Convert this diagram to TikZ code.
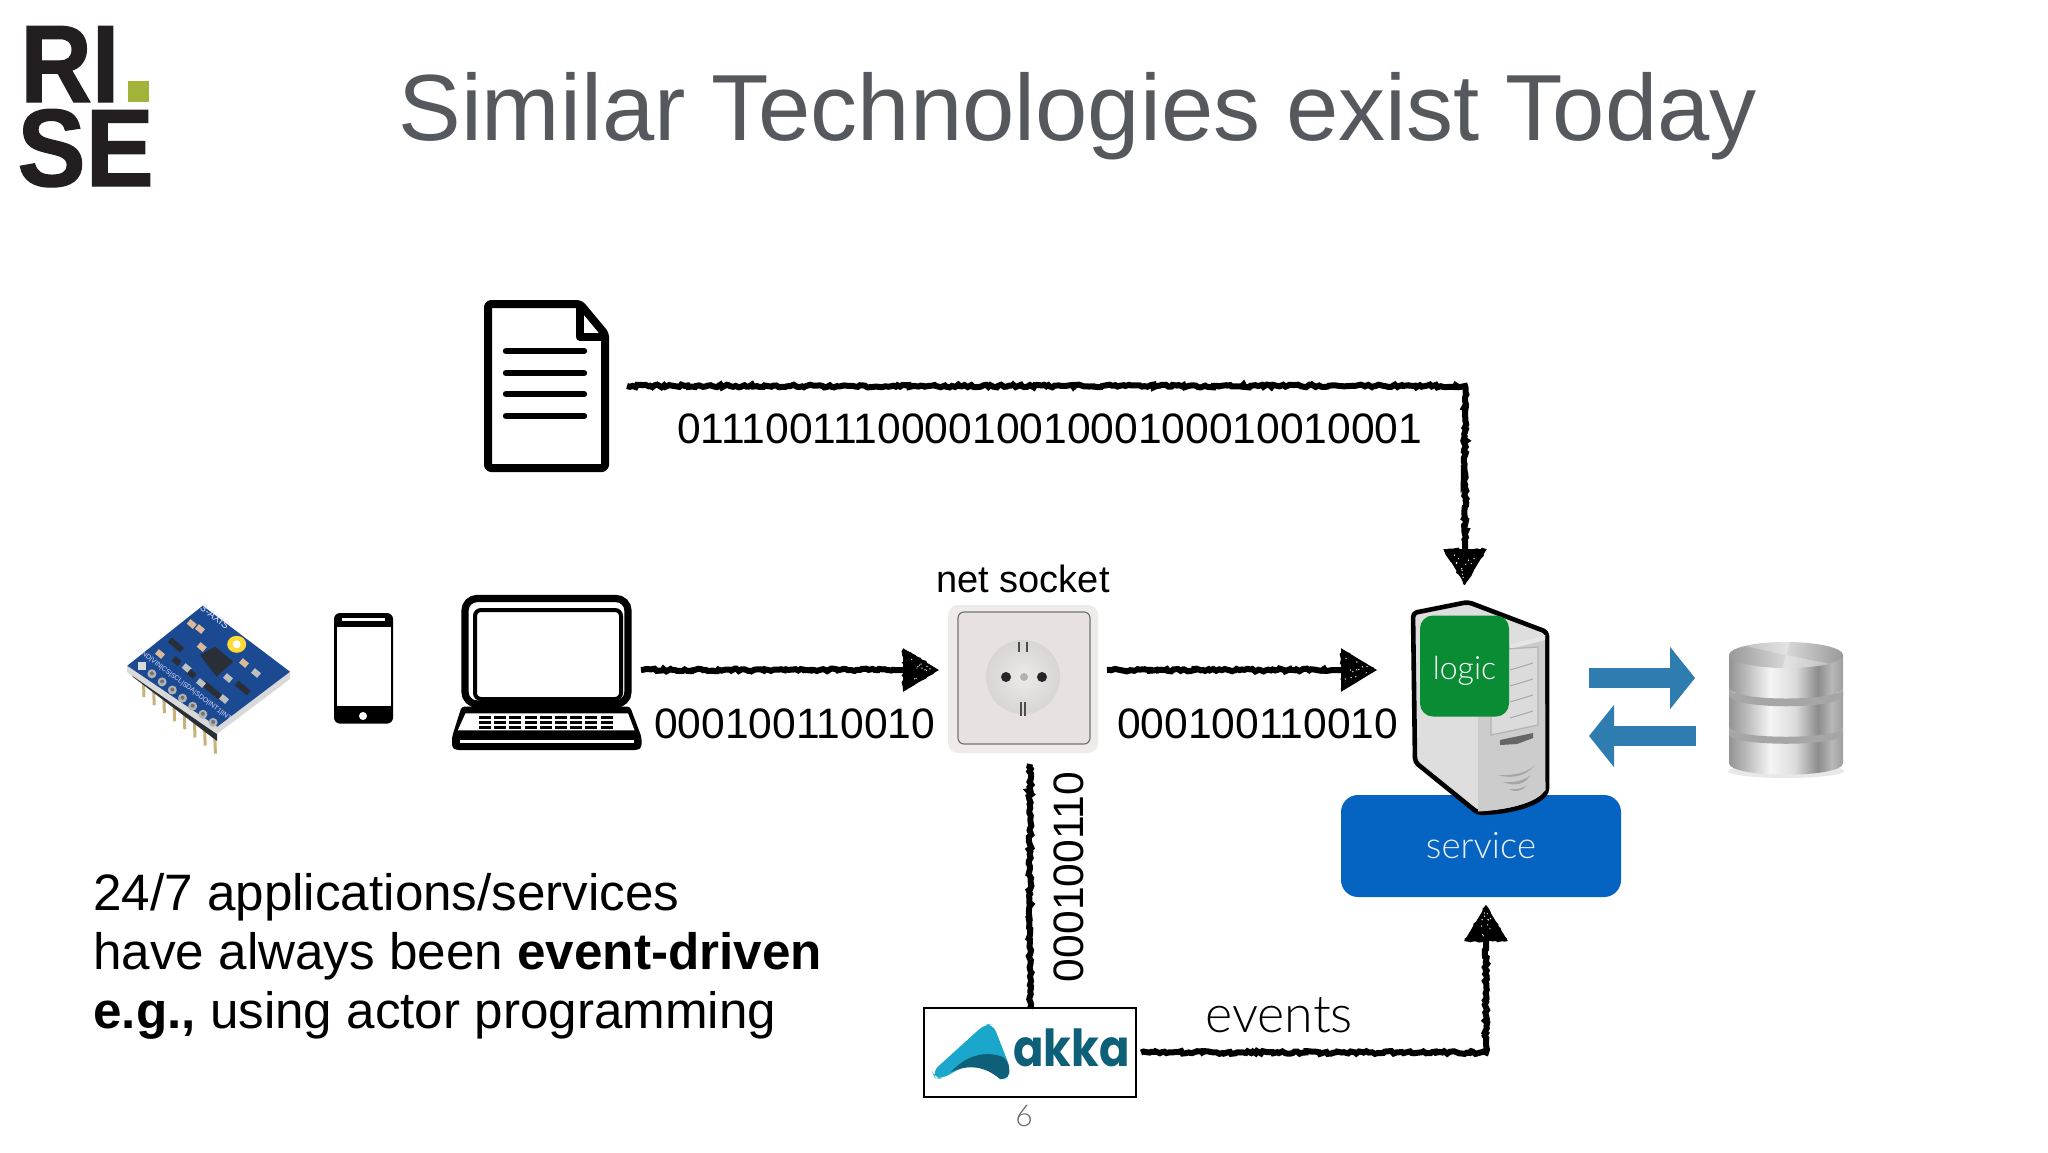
\documentclass[tikz,border=0pt]{standalone}
\usepackage{fontspec}
\setmainfont{Liberation Sans}
\newfontfamily\lightf{Lato Light}[Numbers=Lining]
\newfontfamily\akkaf{Poppins}
\newfontfamily\logof{Liberation Sans}[UprightFeatures={FakeBold=1.2},BoldFeatures={FakeBold=1.2}]
\newfontfamily\tinyf{Liberation Sans}[Kerning=Off]
\usetikzlibrary{arrows.meta,decorations.pathmorphing,calc}
\definecolor{titlegray}{HTML}{55595D}
\definecolor{logoink}{HTML}{231F20}
\definecolor{logogreen}{HTML}{A3B239}
\definecolor{srvblue}{HTML}{0563C1}
\definecolor{logicgreen}{HTML}{098C33}
\definecolor{flow}{HTML}{2F7CB1}
\definecolor{akkalight}{HTML}{1BA6CB}
\definecolor{akkadark}{HTML}{0E5F78}
\definecolor{pcb}{HTML}{1B4A92}
\definecolor{chip}{HTML}{2A2E36}
\definecolor{pingold}{HTML}{C9B27A}
\definecolor{sockframe}{HTML}{EFEBEA}
\definecolor{sockface}{HTML}{E7E1E1}
\definecolor{sockwell}{HTML}{D8D5D2}
\pgfdeclarehorizontalshading{metal}{100bp}{rgb(0bp)=(.58,.58,.58);rgb(25bp)=(.58,.58,.58);rgb(33bp)=(.74,.74,.74);rgb(43bp)=(.96,.96,.96);rgb(54bp)=(.86,.86,.86);rgb(64bp)=(.55,.55,.55);rgb(70bp)=(.72,.72,.72);rgb(75bp)=(.62,.62,.62);rgb(100bp)=(.62,.62,.62)}
\tikzset{
  slot/.style 2 args={inner sep=0pt,outer sep=0pt,minimum width=#1*.5pt,minimum height=#2*.5pt},
  rough/.style={line width=3pt,black,decorate,decoration={random steps,segment length=1.3pt,amplitude=.7pt}},
  roughtip/.style={rough,decoration={random steps,segment length=1.3pt,amplitude=.7pt,post length=22pt},-{Triangle[length=18pt,width=21pt]}},
  roughedge/.style={fill=black,decorate,decoration={random steps,segment length=1.4pt,amplitude=.8pt}},
  bits/.style={font=\fontsize{21.3}{25}\selectfont,inner sep=0pt,outer sep=0pt},
  flowarrow/.style={line width=10pt,flow,-{Triangle[length=12.5pt,width=30.5pt]}},
}
\newcommand{\roughhead}[2]{%
  \path[roughedge,shift={(#1)},rotate=#2] (0,0) -- (-36,21) -- (-36,-21) -- cycle;
  \begin{scope}[shift={(#1)},rotate=#2]
  \foreach \k in {1,...,12} {
    \pgfmathsetmacro{\px}{-6-rnd*26}
    \pgfmathsetmacro{\py}{(rnd-.5)*1.0*(-\px)*.8}
    \fill[white] (\px,\py) circle[radius=.7];
  }
  \end{scope}}
\newcommand{\discbody}[3]{% top y, bottom y, bulge
  \path[shading=metal] (1729,#1) -- (1729,#2) .. controls (1729,#2+#3*1.3) and (1843,#2+#3*1.3) .. (1843,#2) -- (1843,#1) -- cycle;}
\begin{document}
\begin{tikzpicture}[x=.5pt,y=-.5pt]
\pgfmathsetseed{42}
\useasboundingbox (0,0) rectangle (2048,1152);
\fill[white] (0,0) rectangle (2048,1152);

% logo
\node[anchor=base west,inner sep=0pt,text=logoink,font=\logof\fontsize{55}{60}\bfseries\selectfont] (logoa) at (20,102) {\scalebox{.9}[1]{RI}};
\node[anchor=base west,inner sep=0pt,text=logoink,font=\logof\fontsize{55}{60}\bfseries\selectfont] (logob) at (17,186) {\scalebox{.93}[1]{SE}};
\fill[logogreen] (128,81) rectangle (149,102);

% title
\node[anchor=base west,inner sep=0pt,text=titlegray,font=\fontsize{47}{50}\selectfont] (title) at (398,140) {Similar Technologies exist Today};

% document
\node[slot={125}{172}] (doc) at (546.5,386) {};
\draw[line width=4pt,line join=round,rounded corners=1.5pt] (488,304) -- (580,304) -- (605,334) -- (605,468) -- (488,468) -- cycle;
\draw[line width=4pt,line join=round] (580,304) -- (580,337) -- (605,337);
\foreach \yy in {351,373,394,416} \draw[line width=3.2pt,line cap=round] (506,\yy) -- (584,\yy);

% sensor board
\foreach \i in {0,...,7} {
  \draw[pingold,line width=1.5pt] ({143+\i*10.2},{668+\i*8.1}) -- ({144+\i*10.2},{697+\i*8.1});
}
\fill[chip] (128,668) -- (217,732) -- (217,741) -- (133,677) -- cycle;
\fill[black!15] (127,666) -- (127,672) -- (217,734) -- (290,679) -- (290,672) -- cycle;
\fill[pcb] (202.7,605.7) -- (290,671.7) -- (217.3,726.7) -- (127.3,665.7) -- cycle;
\fill[black!15] (137.7,661.7) rectangle (145.7,669.7);
\foreach \i in {1,...,7} {
  \fill[black!30] ({141.7+\i*10.2},{665.7+\i*8.1}) circle[radius=4.5];
  \fill[black!55] ({141.7+\i*10.2},{665.2+\i*8.1}) circle[radius=2];
}
\fill[yellow!70!orange!80!white] (236.7,644.3) ellipse[x radius=9.5,y radius=8.5];
\fill[white] (236.7,644.3) circle[radius=4];
\fill[chip] (200,655) -- (215,646.7) -- (233.3,661.7) -- (216.7,676.7) -- cycle;
\foreach \xx/\yy/\cc/\aa/\ww in {
  176/645/chip/-40/8, 242.7/688/chip/-40/8, 211.7/690/chip/-40/11,
  191.7/624/brown!55!white/-40/4, 200/629/brown!55!white/-40/4, 201.7/647/brown!55!white/-40/4,
  160/654/brown!55!white/-40/4, 186.7/668/black!25/-40/4, 176.7/661/chip/-40/4,
  191.7/674/chip/-40/4, 201/683/black!25/-40/4, 228/678/black!25/-40/4,
  244/663/brown!55!white/-40/4, 256/673/black!25/-40/4, 224/699/black!25/-40/4} {
  \fill[\cc,shift={(\xx,\yy)},rotate=\aa] (-\ww,-3) rectangle (\ww,3);
}
\node[rotate=-37,inner sep=0pt,text=white!85!blue,font=\tinyf\fontsize{5.2}{6}\selectfont] (axis) at (215,617) {3-AXIS};
\node[rotate=-37,inner sep=0pt,text=white!85!blue,font=\tinyf\fontsize{3.4}{4}\selectfont] (pins) at (186,686) {GND|VIN|CS|SCL|SDA|SDO|INT1|INT2};

% phone
\fill[black,rounded corners=3pt] (334,613) rectangle (393,723.6);
\fill[white] (336.5,627) rectangle (391,705.5);
\fill[white] (342,618) rectangle (385,620.5);
\fill[white] (363,716) circle[radius=4];

% laptop
\node[slot={189}{155}] (laptop) at (546.5,670) {};
\draw[line width=3.6pt,rounded corners=6pt] (465,598.5) -- (628,598.5) -- (628,704) -- (465,704) -- cycle;
\draw[line width=2pt,rounded corners=3pt] (475,610) rectangle (621,699);
\fill[black,rounded corners=1.5pt] (461.6,706.5) -- (630,706.5) -- (641.5,737) -- (641.5,747.5) -- (637.7,750) -- (456,750) -- (452,747.5) -- (452,737) -- cycle;
\fill[white] (465.5,713.3) -- (628,713.3) -- (634.6,730.4) -- (457.8,730.4) -- cycle;
\fill[white] (459.7,739.6) rectangle (633.9,743.4);
\foreach \c in {0,...,8} \foreach \r in {0,1,2} {
  \fill[black] ({479+\c*15.2},{716+\r*4.9}) rectangle ({491+\c*15.2},{719.4+\r*4.9});
}

% socket
\node[slot={150}{148},fill=sockframe,rounded corners=5pt] (socket) at (1023,679) {};
\fill[sockface,draw=black!55,line width=.6pt,rounded corners=3pt] (958,612) rectangle (1090,744);
\shade[inner color=black!8,outer color=sockwell] (1023,677) circle[radius=37];
\fill[black!70] (1018,642) rectangle (1020,652);
\fill[black!70] (1026,642) rectangle (1028,652);
\fill[black!70] (1020,702) rectangle (1022,716);
\fill[black!70] (1024,702) rectangle (1026,716);
\fill[black!85] (1006,677) circle[radius=5];
\fill[black!85] (1042,677) circle[radius=5];
\fill[black!30] (1024,677) circle[radius=4];
\node[anchor=base,inner sep=0pt,font=\fontsize{19}{22}\selectfont] (netlabel) at (1023,592) {net socket};

% service + server
\node[slot={280}{102},fill=srvblue,rounded corners=8.5pt,text=white!90!srvblue,font=\lightf\fontsize{18.3}{20}\selectfont] (service) at (1481,846) {service};
\node[slot={137}{212}] (server) at (1481,708) {};
\draw[fill=black!13,line width=2.3pt,line join=round,rounded corners=2pt] (1468,602) -- (1413,613) -- (1415,762) -- (1478,813) .. controls (1510,812) and (1535,805) .. (1547,792) -- (1547,632) -- cycle;
\fill[black!20] (1478,652) -- (1545,635) -- (1545.5,790) .. controls (1535,802) and (1510,810) .. (1478,811.5) -- cycle;
\fill[black!10] (1510,644) -- (1545,635) -- (1545,640) -- (1510,649) -- cycle;
\draw[black!30,fill=black!14,line width=.6pt] (1491,650) -- (1538,647) -- (1538,725) -- (1491,735) -- cycle;
\foreach \yy in {0,1,2,3} \draw[black!35,line width=.5pt] (1510,{670+\yy*16}) -- (1533,{663+\yy*16});
\fill[black!60] (1500,740) -- (1533,733) -- (1533,738) -- (1517,744) -- (1500,745) -- cycle;
\fill[black!35] (1498,775) .. controls (1515,776) and (1528,772) .. (1535,765) .. controls (1528,774) and (1515,780) .. cycle;
\fill[black!35] (1503,782) .. controls (1515,783) and (1525,780) .. (1531,775) .. controls (1525,784) and (1515,787) .. cycle;
\fill[black!35] (1509,789) .. controls (1517,790) and (1523,788) .. (1527,785) .. controls (1523,791) and (1515,793) .. cycle;
\node[slot={89}{101},fill=logicgreen,rounded corners=6.5pt,text=white,text depth=0pt,font=\lightf\fontsize{16}{19}\selectfont] (logic) at (1464.5,666) {\raisebox{-1.5pt}{logic}};

% database
\node[slot={115}{133}] (db) at (1786,708) {};
\fill[black!20,opacity=.45] (1786,771) ellipse[x radius=58,y radius=7];
\discbody{732}{763}{12}
\discbody{693}{727}{10}
\shade[left color=black!35,middle color=black!75,right color=black!35] (1729,734) .. controls (1729,747) and (1843,747) .. (1843,734) -- (1843,727) .. controls (1843,740) and (1729,740) .. (1729,727) -- cycle;
\shade[left color=black!35,middle color=black!75,right color=black!35] (1729,695) .. controls (1729,710) and (1843,710) .. (1843,695) -- (1843,688) .. controls (1843,702) and (1729,702) .. (1729,688) -- cycle;
\discbody{655}{688}{10}
\shade[left color=black!40,right color=black!40,middle color=black!15] (1786,655) ellipse[x radius=57,y radius=13];
\fill[white,opacity=.28] (1786,655) -- (1745,646) .. controls (1760,643) and (1775,642) .. (1790,642) -- cycle;
\fill[white,opacity=.28] (1786,655) -- (1830,664) .. controls (1815,667) and (1800,668) .. (1782,668) -- cycle;

% flow arrows
\coordinate (srvout) at (1589,678);
\coordinate (dbin) at (1695,678);
\coordinate (dbout) at (1696,736);
\coordinate (srvback) at (1589,736);
\draw[flowarrow] (srvout) -- (dbin);
\draw[flowarrow] (dbout) -- (srvback);

% akka
\node[slot={212}{89},draw=black,line width=1.4pt] (akka) at (1030,1052.5) {};
\fill[akkalight,rounded corners=4pt] (932,1072) -- (985,1024) -- (993,1024) -- (1011,1070) -- (1006,1079) -- (1000,1079) .. controls (975,1060) and (960,1068) .. (942,1079) -- (935,1078) -- cycle;
\fill[akkadark] (951,1072) .. controls (965,1056) and (985,1050) .. (1003,1057) .. controls (1009,1062) and (1011,1070) .. (1008,1076) .. controls (1006,1079) and (1002,1079) .. (1000,1079) .. controls (985,1066) and (968,1064) .. (951,1072) -- cycle;
\node[anchor=base west,inner sep=0pt,text=akkadark,font=\akkaf\bfseries\fontsize{25.5}{28}\selectfont] (akkaname) at (1013,1066) {\scalebox{.88}[1]{akka}};

% connectors
\coordinate (srvin) at (1465,585);
\coordinate (sockin) at (939,670);
\coordinate (srvleft) at (1377,670);
\coordinate (evin) at (1486,905);
\draw[roughtip] ($(doc.east)+(18,0)$) -| (srvin);
\draw[roughtip] (laptop.east) -- (sockin);
\draw[roughtip] ($(socket.east |- laptop.east)+(9,0)$) -- (srvleft);
\draw[rough] (akka.north) -- ($(akka.north |- socket.south)+(0,11)$);
\draw[roughtip] ($(akka.east)+(5,0)$) -| (evin);
\roughhead{srvin}{-90}
\roughhead{sockin}{0}
\roughhead{srvleft}{0}
\roughhead{evin}{90}

% labels
\node[bits,anchor=base west] (bitsa) at (677,443) {01110011100001001000100010010001};
\node[bits,anchor=base west] (bitsb) at (654,738) {000100110010};
\node[bits,anchor=base west] (bitsc) at (1117,738) {000100110010};
\node[bits,anchor=base west,rotate=90] (bitsd) at (1083,982) {000100110};
\node[anchor=base west,inner sep=0pt,font=\lightf\fontsize{26}{28}\selectfont] (events) at (1205,1032) {events};
\node[inner sep=0pt,text=black!60,font=\lightf\fontsize{15}{16}\selectfont] (pageno) at (1024,1116) {6};
\node[anchor=north west,inner sep=0pt,align=left,font=\fontsize{25.6}{29.5}\selectfont] (para) at (93,872.5) {24/7 applications/services\\have always been \textbf{event-driven}\\\textbf{e.g.,} using actor programming};
\end{tikzpicture}
\end{document}
